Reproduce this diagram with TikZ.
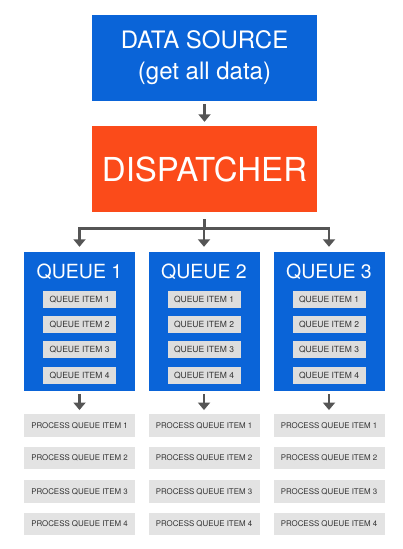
\documentclass[tikz,border=0pt]{standalone}
\usepackage{fontspec}
\setmainfont{TeX Gyre Heros}
\usetikzlibrary{arrows.meta}
\definecolor{qblue}{HTML}{0A64D8}
\definecolor{dorange}{HTML}{FB4B1A}
\definecolor{itemgray}{HTML}{DDDDDD}
\definecolor{procgray}{HTML}{E3E3E3}
\definecolor{arrgray}{HTML}{555555}
\definecolor{txtgray}{HTML}{333333}
\tikzset{
  bigbox/.style={fill=#1, draw=none, minimum width=225pt, minimum height=86pt, inner sep=0pt, text=white, align=center},
  queuebox/.style={fill=qblue, draw=none, minimum width=111pt, minimum height=139pt, inner sep=0pt},
  qtitle/.style={text=white, font=\fontsize{19.5}{22}\selectfont, inner sep=0pt},
  qitem/.style={fill=itemgray, draw=none, minimum width=73pt, minimum height=17pt, inner sep=0pt, text=txtgray, font=\fontsize{8.5}{10}\selectfont},
  pitem/.style={fill=procgray, draw=none, minimum width=111pt, minimum height=22.5pt, inner sep=0pt, text=txtgray, font=\fontsize{7.9}{9}\selectfont},
  conn/.style={draw=arrgray, line width=2.6pt},
  arr/.style={conn, -{Triangle[width=12pt,length=7.5pt]}},
}
\begin{document}
\begin{tikzpicture}[x=1pt,y=-1pt]
\useasboundingbox (0,0) rectangle (403,549);
\fill[white] (0,0) rectangle (403,549);
\node[bigbox=qblue, font=\fontsize{24}{31}\selectfont] (src) at (204.5,58) {DATA SOURCE\\(get all data)};
\node[bigbox=dorange, font=\fontsize{33}{36}\selectfont] (disp) at (204.5,169) {DISPATCHER};
\draw[arr, shorten <=3pt, shorten >=4pt] (src.south) -- (disp.north);
\coordinate (fork) at (204.5,228.5);
\draw[conn, shorten <=7pt] (disp.south) -- (fork);
\foreach \i/\x in {1/79.5,2/204,3/329}{
  \node[queuebox] (q\i) at (\x,321.5) {};
  \node[qtitle] (qt\i) at (\x,272) {QUEUE \i};
  \foreach \j/\y in {1/299.5,2/324.5,3/349.5,4/375.5}{
    \node[qitem] (qi\i\j) at (\x,\y) {QUEUE ITEM \j};
  }
  \foreach \j/\y in {1/425.5,2/458,3/491.5,4/524}{
    \node[pitem] (p\i\j) at (\x,\y) {PROCESS QUEUE ITEM \j};
  }
  \draw[arr, shorten >=5pt, line join=miter] (fork) -| (q\i.north);
  \draw[arr, shorten <=3pt, shorten >=4pt] (q\i.south) -- (p\i1.north);
}
\end{tikzpicture}
\end{document}
